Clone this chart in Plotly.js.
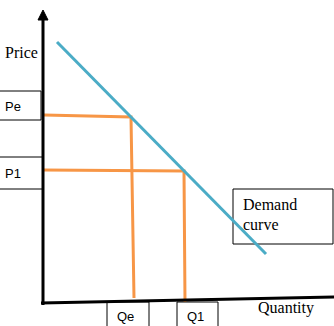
<!DOCTYPE html>
<html>
<head>
<meta charset="utf-8">
<script src="https://cdn.plot.ly/plotly-3.0.1.min.js"></script>
<style>html,body{margin:0;padding:0;background:#fff;}#chart{width:334px;height:326px;}</style>
</head>
<body>
<div id="chart"></div>
<script>
// Schematic data (quantity, price) with origin at the axes' intersection
const demandQ = [14, 223];
const demandP = [261, 49];
const eqQ = [1, 88, 91];        // Pe horizontal then Qe vertical
const eqP = [188, 186, 5];
const p1Q = [1, 141, 142];      // P1 horizontal then Q1 vertical
const p1P = [133, 132, 1];
const yAxisQ = [0, 0];
const yAxisP = [-2, 284];
const xAxisQ = [-2, 291];
const xAxisP = [0, 6];
const priceLabels = ["Pe", "P1"];
const priceLabelP = [197, 130];
const qtyLabels = ["Qe", "Q1"];
const qtyLabelQ = [82, 152];
const axisTitles = {x: "Quantity", y: "Price"};
const curveLabel = ["Demand", "curve"];

const orange = "#f79646";
const blue = "#4bacc6";

const traces = [
  {x: eqQ, y: eqP, mode: "lines", line: {color: orange, width: 3}},
  {x: p1Q, y: p1P, mode: "lines", line: {color: orange, width: 3}},
  {x: demandQ, y: demandP, mode: "lines", line: {color: blue, width: 3}},
  {x: yAxisQ, y: yAxisP, mode: "lines", line: {color: "#000", width: 3}},
  {x: xAxisQ, y: xAxisP, mode: "lines", line: {color: "#000", width: 3}}
];

const box = (x0, x1, y0, y1) => ({type: "rect", xref: "x", yref: "y", x0, x1, y0, y1,
  line: {color: "#000", width: 1}, fillcolor: "rgba(0,0,0,0)", layer: "below"});

const shapes = [
  box(-46, -2, 212, 183),
  box(-46, 0, 146, 114),
  box(64, 106, 1, -30),
  box(134, 175, 1, -30),
  box(190, 290, 114, 59),
  {type: "path", xref: "x", yref: "y", path: "M -5,283 L 5,283 L 0,293 Z",
   fillcolor: "#000", line: {color: "#000", width: 1}}
];

const sans = {family: "Liberation Sans, Arial, sans-serif", size: 13, color: "#000"};
const serif = {family: "Liberation Serif, Times New Roman, serif", size: 16, color: "#000"};

const annotations = [];
priceLabels.forEach((t, i) => annotations.push({x: -30, y: priceLabelP[i], text: t,
  showarrow: false, font: sans, xanchor: "center", yanchor: "middle"}));
qtyLabels.forEach((t, i) => annotations.push({x: qtyLabelQ[i], y: -13, text: t,
  showarrow: false, font: sans, xanchor: "center", yanchor: "middle"}));
annotations.push({x: 243, y: -5, text: axisTitles.x, showarrow: false, font: serif, xanchor: "center", yanchor: "middle"});
annotations.push({x: -22, y: 251, text: axisTitles.y, showarrow: false, font: serif, xanchor: "center", yanchor: "middle"});
annotations.push({x: 198, y: 99, text: curveLabel[0], showarrow: false, font: serif, xanchor: "left", yanchor: "middle"});
annotations.push({x: 198, y: 79, text: curveLabel[1], showarrow: false, font: serif, xanchor: "left", yanchor: "middle"});

const layout = {
  width: 334, height: 326,
  margin: {l: 0, r: 0, t: 0, b: 0, pad: 0},
  paper_bgcolor: "#fff", plot_bgcolor: "#fff",
  showlegend: false,
  xaxis: {range: [-43, 291], visible: false, fixedrange: true},
  yaxis: {range: [-23, 303], visible: false, fixedrange: true},
  shapes, annotations
};

Plotly.newPlot("chart", traces, layout, {displayModeBar: false, staticPlot: true});
</script>
</body>
</html>
